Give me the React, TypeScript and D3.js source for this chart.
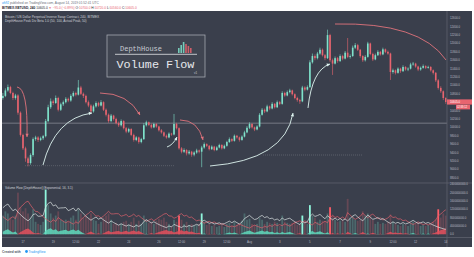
import React from 'react';
import * as d3 from 'd3';

const W = 474;
const H = 257;
const DAY = 864e5;
const T0 = Date.UTC(2019, 6, 17);
const FIRST_BAR = Date.UTC(2019, 6, 15, 16);
const BAR_MS = 4 * 3600e3;

// ---- price data (4h candles, BITMEX:XBTUSD) ----
const firstOpen = 10700;
const closes = [
  10750, 10880, 10960, 10820, 10700, 10760, 10350, 9820, 9500, 9260,
  9150, 9340, 9720, 9760, 9700, 9740, 9790, 10150, 10480, 10620,
  10580, 10700, 10420, 10550, 10600, 10680, 10640, 10750, 10820, 10780,
  10950, 10800, 10750, 10600, 10520, 10380, 10500, 10580, 10520, 10600,
  10420, 10300, 10150, 10280, 10200, 10100, 10050, 10150, 9980, 9900,
  9960, 9820, 9700, 9760, 9650, 9720, 10050, 10120, 10060, 10000,
  10080, 10020, 9930, 9880, 9800, 9760, 9850, 9830, 10080, 9980,
  9500, 9420, 9460, 9380, 9420, 9350, 9400, 9450, 9420, 9520,
  9600, 9560, 9480, 9540, 9460, 9520, 9580, 9500, 9560, 9650,
  9720, 9680, 9800, 9760, 9700, 9780, 9880, 9990, 10080, 10000,
  9950, 10020, 10300, 10420, 10380, 10500, 10450, 10560, 10480, 10600,
  10560, 10820, 10760, 10840, 10880, 10790, 10700, 10650, 10620, 10950,
  10900, 10960, 11550, 11700, 11650, 11760, 11850, 11720, 11650, 12200,
  11600, 11520, 11650, 11580, 11700, 11640, 11780, 11680, 11700, 11900,
  11960, 11850, 11700, 11600, 11680, 12000, 11750, 11620, 11720, 11800,
  11740, 11860, 11800, 11760, 11320, 11360, 11300, 11400, 11340, 11440,
  11380, 11400, 11500, 11520, 11450, 11380, 11420, 11460, 11420, 11440,
  11360, 11300, 11120, 10940, 10860, 10700, 10605,
];
const highs = [
  10820, 10930, 11020, 10990, 10850, 10800, 10790, 10380, 9850, 9540,
  9300, 9380, 9760, 9800, 9790, 9780, 9820, 10200, 10540, 10690,
  10660, 10760, 10730, 10590, 10640, 10720, 10710, 10790, 10860, 10850,
  11130, 10990, 10830, 10780, 10640, 10550, 10540, 10620, 10610, 10650,
  10620, 10450, 10330, 10320, 10300, 10230, 10140, 10190, 10170, 10010,
  9990, 9980, 9850, 9790, 9780, 9750, 10100, 10160, 10140, 10090,
  10110, 10100, 10040, 9960, 9900, 9830, 9880, 9870, 10320, 10110,
  10000, 9530, 9500, 9480, 9460, 9440, 9430, 9490, 9470, 9560,
  9640, 9620, 9580, 9570, 9560, 9550, 9610, 9600, 9590, 9680,
  9760, 9740, 9830, 9820, 9780, 9810, 9920, 10030, 10120, 10100,
  10020, 10050, 10340, 10460, 10450, 10540, 10520, 10600, 10580, 10640,
  10630, 10860, 10850, 10880, 10920, 10900, 10810, 10730, 10680, 10990,
  10980, 11000, 11600, 11760, 11740, 11800, 11900, 11880, 11750, 12330,
  12230, 11640, 11690, 11680, 11740, 11730, 11820, 12130, 11740, 11950,
  12010, 11990, 11870, 11720, 11720, 12040, 12020, 11780, 11760, 11840,
  11820, 11900, 11880, 11830, 11780, 11400, 11380, 11430, 11420, 11480,
  11460, 11430, 11540, 11560, 11540, 11470, 11450, 11500, 11480, 11470,
  11460, 11380, 11320, 11150, 10980, 10880, 10720,
];
const lows = [
  10660, 10720, 10850, 10790, 10650, 10660, 10300, 9780, 9460, 9180,
  9070, 9110, 9300, 9680, 9650, 9670, 9700, 9760, 10120, 10440,
  10530, 10560, 10380, 10390, 10510, 10570, 10600, 10610, 10720, 10740,
  10760, 10770, 10700, 10570, 10480, 10340, 10350, 10470, 10490, 10500,
  10390, 10260, 10110, 10120, 10160, 10070, 10010, 10020, 9950, 9860,
  9870, 9790, 9660, 9670, 9610, 9620, 9700, 10020, 10030, 9970,
  9980, 9990, 9900, 9850, 9770, 9730, 9740, 9800, 9810, 9950,
  9470, 9380, 9390, 9330, 9350, 9300, 9310, 9370, 9380, 9050,
  9490, 9530, 9450, 9460, 9430, 9440, 9500, 9470, 9480, 9540,
  9630, 9650, 9660, 9730, 9660, 9680, 9760, 9860, 9960, 9970,
  9910, 9930, 10000, 10280, 10340, 10360, 10410, 10430, 10450, 10460,
  10530, 10540, 10730, 10740, 10810, 10760, 10670, 10610, 10560, 10600,
  10860, 10880, 10940, 11520, 11600, 11620, 11730, 11690, 11600, 11630,
  11560, 11250, 11500, 11540, 11560, 11600, 11620, 11650, 11640, 11680,
  11870, 11820, 11660, 11560, 11570, 11660, 11720, 11580, 11600, 11700,
  11710, 11720, 11770, 11730, 11130, 11280, 11260, 11280, 11300, 11320,
  11350, 11340, 11380, 11470, 11420, 11340, 11350, 11400, 11390, 11400,
  11330, 11260, 11080, 10900, 10820, 10650, 10560,
];
// volume in millions of contracts
const volumes = [
  900, 1100, 1000, 800, 700, 900, 2000, 1300, 1100, 1250,
  1000, 800, 1200, 600, 500, 450, 600, 2150, 1400, 1000,
  800, 900, 1100, 700, 650, 700, 600, 800, 900, 700,
  1200, 1000, 800, 900, 800, 1000, 700, 650, 500, 600,
  800, 900, 1000, 700, 500, 550, 450, 500, 600, 650,
  450, 600, 800, 500, 650, 500, 900, 700, 550, 600,
  500, 650, 750, 700, 800, 600, 500, 400, 700, 600,
  900, 700, 500, 600, 450, 500, 400, 450, 500, 1000,
  600, 450, 500, 400, 450, 350, 400, 450, 350, 500,
  550, 400, 600, 450, 500, 650, 1000, 700, 750, 500,
  450, 500, 800, 700, 500, 600, 550, 500, 600, 550,
  400, 900, 600, 550, 500, 550, 600, 450, 500, 900,
  600, 500, 1400, 900, 800, 600, 700, 650, 600, 1000,
  1300, 900, 700, 600, 650, 700, 600, 1700, 800, 900,
  700, 650, 700, 1100, 900, 1000, 900, 700, 500, 600,
  500, 550, 500, 600, 950, 600, 500, 450, 400, 500,
  450, 400, 550, 600, 500, 550, 400, 450, 400, 450,
  500, 600, 700, 1200, 800, 1000, 900,
];
const spikeBars = [17, 70, 79, 119, 122, 130, 173];
const emaLength = 16;
const seedBullMa = 600;
const seedBearMa = 480;

// ---- axes ----
const priceTicks = [8800, 9000, 9200, 9400, 9600, 9800, 10000, 10200, 10400, 10600,
  10800, 11000, 11200, 11400, 11600, 11800, 12000, 12200, 12400, 12600];
const volumeTicks = [0, 400, 800, 1200, 1600, 2000, 2400];
const timeTickDays = [0, 2, 3.5, 5, 7, 9, 10.5, 12, 13.5, 15, 17, 19, 21, 23, 24.5, 26, 28];
const timeTickLabels = ['17', '19', '12:00', '22', '24', '26', '12:00', '29', '12:00', 'Aug', '3', '5', '7', '9', '12:00', '12', '14'];

// ---- drawings (day offset from Jul 17, price) ----
const levelPrice = 10100;
const dottedLevels = [
  { from: 0.13, to: 10.07, price: 9086 },
  { from: 15.9, to: 22.5, price: 9341 },
];
const whiteArrows = [
  [[1.325, 9103], [2.119, 10221], [4.57, 10342]],
  [[9.536, 9532], [9.934, 9580], [10.199, 9770]],
  [[12.384, 9079], [17.351, 9222], [17.881, 10342]],
  [[18.874, 10462], [19.139, 11368], [20.331, 11511]],
];
const redArrows = [
  [[-0.397, 10962], [0.331, 10938], [0.265, 9770]],
  [[5.099, 10819], [6.954, 10819], [7.748, 10295]],
  [[10.397, 10176], [11.589, 10176], [11.921, 9699]],
];
const redArc = [[20.662, 12464], [26.291, 12512], [28.013, 11606]];

const BG = '#3a3f4c';
const SEP = '#5d616d';
const AXT = '#b8bbc3';
const TEAL = '#7fe3cb';
const RED = '#e8646f';
const WARROW = '#dff5f1';
const RARROW = '#e0737c';

const dayToDate = (d: number) => new Date(T0 + d * DAY);

export default function App() {
  const x = d3.scaleUtc()
    .domain([dayToDate(-1.3907), dayToDate(28.079)])
    .range([2, 447]);
  const yP = d3.scaleLinear().domain([8800, 12600]).range([177.7, 18.3]);
  const yV = d3.scaleLinear().domain([0, 2400]).range([234.3, 184.3]);

  const bars = closes.map((c, i) => {
    const o = i === 0 ? firstOpen : closes[i - 1];
    return { t: new Date(FIRST_BAR + i * BAR_MS), o, c, h: highs[i], l: lows[i], v: volumes[i], up: c >= o, spike: spikeBars.includes(i) };
  });

  const alpha = 2 / (emaLength + 1);
  let bm = seedBullMa;
  let rm = seedBearMa;
  const flow = bars.map((b) => {
    const bull = b.c > b.o ? b.v : 0;
    const bear = b.o > b.c ? b.v : 0;
    bm = alpha * bull + (1 - alpha) * bm;
    rm = alpha * bear + (1 - alpha) * rm;
    return { t: b.t, bull: bm, bear: rm, dif: bm - rm };
  });

  const bullLine = d3.line<any>().x((d) => x(d.t)).y((d) => yV(d.bull * 2))(flow) || '';
  const bearLine = d3.line<any>().x((d) => x(d.t)).y((d) => yV(d.bear * 2))(flow) || '';
  const areaGen = (sign: number) =>
    d3.area<any>()
      .x((d) => x(d.t))
      .y0(yV(0))
      .y1((d) => yV(sign * d.dif > 0 ? Math.abs(d.dif) * 0.6 : 0))(flow) || '';

  const curvePath = (pts: number[][]) => {
    const p = d3.path();
    const [s, c, e] = pts.map(([d, pr]) => [x(dayToDate(d)), yP(pr)]);
    p.moveTo(s[0], s[1]);
    p.quadraticCurveTo(c[0], c[1], e[0], e[1]);
    return p.toString();
  };
  const arrowHead = (pts: number[][]) => {
    const [, c, e] = pts.map(([d, pr]) => [x(dayToDate(d)), yP(pr)]);
    const a = Math.atan2(e[1] - c[1], e[0] - c[0]);
    const L = 3.2, Wd = 1.6;
    const bx = e[0] - L * Math.cos(a), by = e[1] - L * Math.sin(a);
    const p1 = [bx + Wd * Math.sin(a), by - Wd * Math.cos(a)];
    const p2 = [bx - Wd * Math.sin(a), by + Wd * Math.cos(a)];
    return `M${e[0]},${e[1]}L${p1[0]},${p1[1]}L${p2[0]},${p2[1]}Z`;
  };

  const bodyW = 1.6;
  const lastClose = closes[closes.length - 1];
  const fmt = (v: number) => v.toFixed(1);

  return (
    <>
      <style>{`html,body{margin:0;padding:0;background:#fff;overflow:hidden}`}</style>
      <svg width={W} height={H} style={{ display: 'block' }} fontFamily="'Liberation Sans', Arial, sans-serif">
        <defs>
          <clipPath id="pricePane"><rect x={2} y={11} width={445} height={172} /></clipPath>
          <clipPath id="volPane"><rect x={2} y={183} width={445} height={54.5} /></clipPath>
        </defs>
        <rect width={W} height={H} fill="#fff" />
        <text x={2} y={3.9} fontSize={3.2} fill="#6a6d78">
          <tspan fill="#2196f3">oh92</tspan> published on TradingView.com, August 14, 2019 01:52:41 UTC
        </text>
        <text x={2} y={8.6} fontSize={3.2} fontWeight="bold" fill="#1e222d">
          BITMEX:XBTUSD, 240 <tspan fontWeight="normal">{fmt(lastClose)} </tspan>
          <tspan fontWeight="normal" fill={RED}>▼ −95.0 (−0.89%)</tspan>
          <tspan fontWeight="normal"> O:</tspan><tspan fontWeight="normal" fill={RED}>10700.0</tspan>
          <tspan fontWeight="normal"> H:</tspan><tspan fontWeight="normal" fill={RED}>10720.0</tspan>
          <tspan fontWeight="normal"> L:</tspan><tspan fontWeight="normal" fill={RED}>10560.0</tspan>
          <tspan fontWeight="normal"> C:</tspan><tspan fontWeight="normal" fill={RED}>{fmt(lastClose)}</tspan>
        </text>

        <rect x={2} y={11} width={470} height={236} fill={BG} />

        {/* price pane */}
        <g clipPath="url(#pricePane)">
          <line x1={2} x2={447} y1={yP(levelPrice)} y2={yP(levelPrice)} stroke="#8f939d" strokeWidth={0.7} />
          {dottedLevels.map((d, i) => (
            <line key={i} x1={x(dayToDate(d.from))} x2={x(dayToDate(d.to))} y1={yP(d.price)} y2={yP(d.price)}
              stroke="#9ea2ab" strokeWidth={0.6} strokeDasharray="0.8 1.2" opacity={0.7} />
          ))}
          {bars.map((b, i) => {
            const col = b.up ? TEAL : RED;
            const cx = x(b.t);
            const top = yP(Math.max(b.o, b.c));
            const bot = yP(Math.min(b.o, b.c));
            return (
              <g key={i}>
                <line x1={cx} x2={cx} y1={yP(b.h)} y2={yP(b.l)} stroke={col} strokeWidth={0.6} />
                <rect x={cx - bodyW / 2} y={top} width={bodyW} height={Math.max(0.6, bot - top)} fill={col} />
              </g>
            );
          })}
          {whiteArrows.map((a, i) => (
            <g key={'w' + i}>
              <path d={curvePath(a)} fill="none" stroke={WARROW} strokeWidth={0.9} />
              <path d={arrowHead(a)} fill={WARROW} />
            </g>
          ))}
          {redArrows.map((a, i) => (
            <g key={'r' + i}>
              <path d={curvePath(a)} fill="none" stroke={RARROW} strokeWidth={0.9} />
              <path d={arrowHead(a)} fill={RARROW} />
            </g>
          ))}
          <path d={curvePath(redArc)} fill="none" stroke={RARROW} strokeWidth={0.9} />

          {/* DepthHouse logo box */}
          <rect x={107} y={35} width={98} height={42} fill="rgba(255,255,255,0.03)" stroke="#a3a7b0" strokeWidth={0.8} />
          <text x={120} y={51} fontSize={7} fill="#c9ccd3" fontFamily="'Liberation Mono', 'Courier New', monospace">DepthHouse</text>
          {[5, 8, 11, 9, 7, 5].map((h, i) => (
            <rect key={i} x={178 + i * 2.4} y={53 - h} width={1.6} height={h} fill={i < 3 ? TEAL : RED} opacity={0.85} />
          ))}
          <line x1={115} x2={197} y1={54.3} y2={54.3} stroke="#e4e6ea" strokeWidth={0.8} />
          <text x={116.5} y={67.5} fontSize={11.8} fill="#e6e8ec" fontFamily="'Liberation Mono', 'Courier New', monospace">Volume Flow</text>
          <text x={194} y={73.5} fontSize={3} fill="#c9ccd3">v1</text>
        </g>
        <text x={5} y={17.8} fontSize={3.2} fill="#cfd2d9">Bitcoin / US Dollar Perpetual Inverse Swap Contract, 240, BITMEX</text>
        <text x={5} y={22.2} fontSize={3.2} fill="#cfd2d9">DepthHouse Peak Div Beta 1.0 (50, 100, Actual Peak, 50)</text>

        {/* volume pane */}
        <g clipPath="url(#volPane)">
          {bars.map((b, i) => {
            const cx = x(b.t);
            const y1 = yV(b.v);
            return (
              <rect key={i} x={cx - 0.9} y={y1} width={1.8} height={yV(0) - y1}
                fill={b.up ? (b.spike ? '#8ff5dc' : TEAL) : (b.spike ? '#ff5d68' : RED)}
                opacity={b.spike ? 1 : 0.25} />
            );
          })}
          <path d={areaGen(1)} fill="#5fd8bb" opacity={0.85} />
          <path d={areaGen(-1)} fill="#e2505d" opacity={0.85} />
          <path d={bearLine} fill="none" stroke="#e0616d" strokeWidth={0.7} />
          <path d={bullLine} fill="none" stroke="#dde4e4" strokeWidth={0.7} />
        </g>
        <text x={5} y={189.3} fontSize={3.1} fill="#cfd2d9">Volume Flow [DepthHouse] (Exponential, 16, 3.1)</text>

        {/* separators */}
        <line x1={2} x2={472} y1={183} y2={183} stroke={SEP} strokeWidth={0.8} />
        <line x1={2} x2={472} y1={237.5} y2={237.5} stroke={SEP} strokeWidth={0.8} />
        <line x1={447} x2={447} y1={11} y2={247} stroke={SEP} strokeWidth={0.8} />

        {/* price axis */}
        {priceTicks.map((p) => (
          <text key={p} x={450} y={yP(p) + 1} fontSize={2.8} fill={AXT}>{fmt(p)}</text>
        ))}
        <rect x={447} y={yP(lastClose) - 2.6} width={25} height={5.2} fill={RED} />
        <text x={450} y={yP(lastClose) + 1} fontSize={2.8} fill="#fff">{fmt(lastClose)}</text>
        <rect x={456} y={yP(lastClose) + 2.8} width={14} height={4.6} fill={RED} />
        <text x={457} y={yP(lastClose) + 6.1} fontSize={2.6} fill="#fff">02:38:12</text>

        {/* volume axis */}
        {volumeTicks.map((v) => (
          <text key={v} x={450} y={yV(v) + 1} fontSize={2.8} fill={AXT}>{fmt(v * 1e6)}</text>
        ))}

        {/* time axis */}
        {timeTickDays.map((d, i) => (
          <text key={i} x={x(dayToDate(d))} y={242.8} fontSize={2.8} fill={AXT} textAnchor="middle">{timeTickLabels[i]}</text>
        ))}

        <text x={2} y={252.5} fontSize={3.1} fontWeight="bold" fill="#50535e">Created with</text>
        <circle cx={26.5} cy={251.5} r={1.4} fill="#2196f3" />
        <text x={28.5} y={252.5} fontSize={3.1} fill="#2196f3">TradingView</text>
      </svg>
    </>
  );
}
